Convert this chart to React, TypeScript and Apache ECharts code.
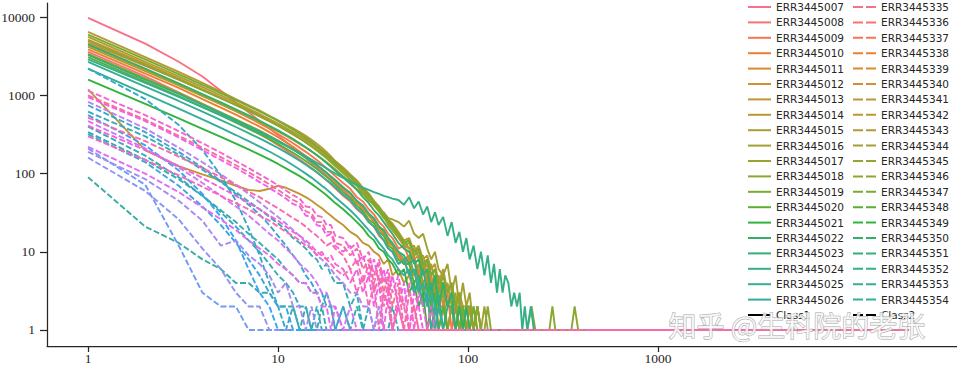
import React, { useEffect, useRef } from "react";
import * as echarts from "echarts";

// shared x grid (abundance values)
const XS = [1,2,3,4,5,6,7,8,9,10,11,12,13,14,15,16,17,18,19,20,22,24,26,28,30,32,34,36,38,40,43,46,49,52,55,58,61,64,67,70,74,78,82,86,90,94,98,102,107,112,117,122,127,132,137,142,147,152,157,163,169,175,181,187,193,199];

const SOLID_NAMES = ["ERR3445007","ERR3445008","ERR3445009","ERR3445010","ERR3445011","ERR3445012","ERR3445013","ERR3445014","ERR3445015","ERR3445016","ERR3445017","ERR3445018","ERR3445019","ERR3445020","ERR3445021","ERR3445022","ERR3445023","ERR3445024","ERR3445025","ERR3445026"];
const DASHED_NAMES = ["ERR3445335","ERR3445336","ERR3445337","ERR3445338","ERR3445339","ERR3445340","ERR3445341","ERR3445342","ERR3445343","ERR3445344","ERR3445345","ERR3445346","ERR3445347","ERR3445348","ERR3445349","ERR3445350","ERR3445351","ERR3445352","ERR3445353","ERR3445354"];

// Class1 (solid) series values on the XS grid
const E007 = [9800,4600,2700,1750,1150,820,610,470,380,310,255,215,182,158,137,120,106,94,84,75,62,50,44,34,30,24,21,16,15,12,10,7,9,5,6,3,5,2,4,2,3,1,2,1,2,1,1,2,1];
const E008 = [3600,1750,1100,780,590,470,385,320,272,232,200,174,152,134,118,104,92,82,73,65,52,44,35,30,24,21,16,14,11,10,7,8,5,6,3,4,2,3,1,2,2,1,1,2,1];
const E009 = [4400,2150,1400,1000,780,630,520,440,375,322,280,245,215,190,168,149,132,117,104,93,76,64,50,44,35,30,24,21,17,15,11,12,8,9,5,7,4,5,3,4,2,3,1,2,2,1,2,1];
const E010 = [3900,1900,1250,900,700,570,470,400,340,292,253,220,192,168,148,130,115,102,90,80,64,55,42,37,29,25,20,17,13,12,9,7,8,5,6,3,4,2,3,1,2,1,2,1];
const E011 = [4700,2400,1600,1180,930,770,650,560,490,430,380,338,302,272,245,220,198,178,160,144,118,96,80,64,54,43,37,29,26,21,17,13,14,9,11,7,8,5,6,4,5,3,4,2,3,1,2,2,1,2,1];
const E012 = [5200,2550,1650,1200,940,760,640,545,470,410,360,318,282,252,225,202,181,162,146,131,108,90,72,60,48,41,33,28,22,19,15,12,11,8,9,6,7,4,5,3,4,2,3,1,2,2,1,2,1];
const E013 = [1200,200,125,98,82,70,62,60,64,70,66,60,55,50,45,40,36,32,29,26,22,18,16,13,12,10,9,7,8,5,6,4,5,3,4,2,3,1,2,1];
const E014 = [6500,3100,2000,1450,1120,900,750,640,550,480,425,380,340,305,272,242,214,189,166,145,120,98,82,66,56,45,38,31,26,23,18,14,15,10,12,8,9,6,7,4,6,3,4,2,3,2,1,2,1,2,1,1];
const E015 = [5600,2700,1750,1280,1000,810,680,580,500,437,385,340,300,268,240,214,190,170,152,136,112,93,76,63,51,44,35,30,24,21,16,14,11,12,8,9,5,7,4,5,3,4,2,3,1,2,2,1,2,1];
const E016 = [4200,2050,1350,980,770,630,530,455,395,346,305,270,240,214,192,172,155,140,126,114,93,78,63,55,45,41,34,32,27,26,24,21,25,17,15,17,11,8,10,6,5,7,3,5,2,4,2,3,1,2,1,2,1];
const E017 = [3400,1650,1080,780,610,495,415,355,305,265,232,204,180,160,142,127,114,102,91,82,66,56,44,38,30,26,21,18,14,12,10,8,9,5,7,4,5,2,4,2,3,1,2,1,1,2,1];
const E018 = [5000,2450,1600,1170,920,750,630,540,468,410,360,318,282,250,222,198,176,157,140,125,102,84,70,56,47,39,33,27,24,19,16,12,13,9,10,6,8,5,6,3,5,3,4,2,3,1,2,2,1,2,1,1,2,1];
const E019 = [6000,2900,1880,1370,1070,870,730,625,540,472,415,366,324,287,255,226,200,177,157,139,115,94,78,63,53,43,37,30,25,22,17,13,14,10,11,7,8,5,6,4,4,2,3,2,1,2,1,1,2,1];
const E020 = [3100,1500,980,710,555,450,375,320,276,240,210,185,163,145,129,115,102,91,81,72,58,49,39,33,26,23,18,16,12,11,8,7,7,4,5,3,4,2,3,1,2,1,1];
const E021 = [1600,780,510,375,295,242,204,175,152,133,117,104,93,83,74,66,59,53,47,42,35,29,24,20,16,14,11,10,8,7,5,6,3,4,2,3,1,2,1,1];
const E022 = [4500,2200,1430,1040,815,665,555,475,410,358,314,277,245,218,194,173,154,137,122,109,90,74,62,50,42,34,29,24,20,17,13,11,10,7,8,5,6,3,5,2,4,2,3,1,2,1,2,1];
const E023 = [3300,1600,1050,760,595,485,405,347,300,262,230,203,180,160,143,128,115,103,92,83,67,57,45,39,31,27,21,19,15,13,10,9,7,8,4,6,3,4,2,3,1,2,2,1,1];
const E024 = [2900,1450,960,710,560,460,390,335,292,257,228,204,184,166,151,138,127,117,108,100,88,80,72,66,62,58,55,52,50,48,46,40,50,36,44,30,38,24,32,22,28,16,24,13,18,10,15,8,12,6,10,5,9,4,7,3,6,3,5,4,2,3,2,3,1,2];
const E025 = [2700,1300,850,620,485,395,330,282,244,213,187,165,146,130,116,104,93,83,75,67,54,46,36,31,24,21,17,14,11,10,7,8,5,6,3,4,2,3,1,2,1,1];
const E026 = [2200,1050,680,495,385,312,260,222,192,167,146,128,113,100,89,79,70,63,56,50,41,34,28,23,19,16,13,11,9,8,6,5,6,3,4,2,3,1,2,1];

// Class2 (dashed) series values on the XS grid
const E335 = [90,21,13,8,6,4,4,3,3,2,2,2,1,2,1,1,2,1,1,1];
const E336 = [340,150,85,52,34,24,17,13,10,8,6,5,4,4,3,3,2,3,2,1,2,1,2,1,1];
const E337 = [620,300,175,112,78,58,44,35,28,23,19,15,13,11,9,8,6,7,5,4,4,2,3,1,2,1,2,1,1,2,1];
const E338 = [400,170,90,52,32,21,14,10,7,5,4,3,2,2,1,2,1,1];
const E339 = [2200,900,420,200,95,45,20,9,4,2,1,2,1,1];
const E340 = [750,340,190,120,80,55,40,30,22,16,12,9,7,5,4,3,3,2,2,1,2,1,1];
const E341 = [320,140,70,38,22,13,8,5,3,2,2,1,1];
const E342 = [560,230,110,55,28,14,6,3,2,1,1,1];
const E343 = [210,72,12,3,2,2,1,1,1];
const E344 = [160,60,26,11,6,3,2,2,1,1,1];
const E345 = [190,85,45,25,12,14,9,7,5,3,4,2,2,1,2,1,1];
const E346 = [830,380,215,140,98,72,55,43,34,28,23,19,16,13,11,9,8,7,6,5,4,3,3,2,2,1,2,1,1];
const E347 = [470,210,120,76,52,38,29,22,17,14,11,9,7,6,5,4,3,3,2,2,1,2,1,1];
const E348 = [220,100,58,37,26,19,14,11,9,7,6,5,4,4,3,3,2,2,1,2,1,1];
const E349 = [950,470,290,200,150,118,95,78,66,56,48,41,38,29,28,22,21,16,17,12,10,12,7,9,5,8,4,6,3,5,2,4,1,3,2,1,1];
const E350 = [410,200,125,88,66,52,42,35,29,25,21,18,16,14,12,10,9,8,9,7,6,4,6,3,5,2,4,1,3,1,2,1,1];
const E351 = [1150,560,350,245,185,145,118,98,83,71,61,53,48,38,37,29,28,22,22,16,15,11,13,8,10,5,8,4,6,3,5,2,4,1,3,2,1,2,1,1];
const E352 = [300,150,95,68,52,42,35,29,25,21,18,16,14,12,11,9,10,8,7,6,5,6,3,5,2,4,1,3,2,1,2,1,1];
const E353 = [520,260,165,118,90,72,59,50,42,36,31,27,24,21,18,16,14,12,13,11,9,6,8,4,7,3,5,2,4,1,3,2,1,2,1,1];
const E354 = [1000,490,305,215,163,128,104,87,73,62,53,46,42,33,31,24,24,18,18,13,12,9,11,6,8,4,7,3,5,2,4,1,3,2,1,1];

const SOLID_VALUES = [E007,E008,E009,E010,E011,E012,E013,E014,E015,E016,E017,E018,E019,E020,E021,E022,E023,E024,E025,E026];
const DASHED_VALUES = [E335,E336,E337,E338,E339,E340,E341,E342,E343,E344,E345,E346,E347,E348,E349,E350,E351,E352,E353,E354];

// last abundance value of each series (count 1)
const SOLID_TAILS = [21000,130,150,120,160,170,110,140,150,200,110,420,130,110,90,150,140,240,100,85];
const DASHED_TAILS = [26,45,60,30,20,35,18,14,10,12,25,55,40,30,80,70,6000,60,20000,90];

// isolated points beyond the XS grid
const EXTRA_018 = [[205,1],[216,2],[226,1],[268,1],[278,2],[288,1],[350,1],[364,2],[380,1]];
const EXTRA_024 = [[205,1],[214,2],[222,1]];

const X_TICKS = [1, 10, 100, 1000];
const Y_TICKS = [1, 10, 100, 1000, 10000];

// seaborn husl palette
const MM = [[3.2406,-1.5372,-0.4986],[-0.9689,1.8758,0.0415],[0.0557,-0.2040,1.0570]];
function maxChroma(L: number, H: number) {
  const hrad = (H / 360) * 2 * Math.PI;
  const sinH = Math.sin(hrad), cosH = Math.cos(hrad);
  const sub1 = Math.pow(L + 16, 3) / 1560896;
  const sub2 = sub1 > 0.008856 ? sub1 : L / 903.3;
  let result = Infinity;
  for (const [m1, m2, m3] of MM) {
    const top = (0.99915 * m1 + 1.05122 * m2 + 1.1446 * m3) * sub2;
    const rbottom = 0.8633 * m3 - 0.17266 * m2;
    const lbottom = 0.12949 * m3 - 0.38848 * m1;
    const bottom = (rbottom * sinH + lbottom * cosH) * sub2;
    for (const t of [0, 1]) {
      const C = (L * (top - 1.05122 * t)) / (bottom + 0.17266 * sinH * t);
      if (C > 0 && C < result) result = C;
    }
  }
  return result;
}
function husl(h: number, s: number, l: number) {
  const C = (maxChroma(l, h) / 100) * s;
  const hrad = (h / 180) * Math.PI;
  const U = Math.cos(hrad) * C, V = Math.sin(hrad) * C;
  const varY = l > 8 ? Math.pow((l + 16) / 116, 3) : l / 903.3;
  const varU = U / (13 * l) + 0.19784;
  const varV = V / (13 * l) + 0.46834;
  const Y = varY;
  const X = -(9 * Y * varU) / ((varU - 4) * varV - varU * varV);
  const Z = (9 * Y - 15 * varV * Y - varV * X) / (3 * varV);
  const rgb = MM.map((r) => {
    let c = r[0] * X + r[1] * Y + r[2] * Z;
    c = c <= 0.0031308 ? 12.92 * c : 1.055 * Math.pow(c, 1 / 2.4) - 0.055;
    return Math.max(0, Math.min(255, Math.round(c * 255)));
  });
  return "#" + rgb.map((v) => v.toString(16).padStart(2, "0")).join("");
}
function huslPalette(n: number) {
  const out: string[] = [];
  for (let i = 0; i < n; i++) {
    const h = ((i / n + 0.01) % 1) * 359;
    out.push(husl(h, 0.9 * 99, 0.65 * 99));
  }
  return out;
}

const PAL = huslPalette(40);

function build(ys: number[], tail: number, extra?: number[][]) {
  const pts: number[][] = ys.map((y, i) => [XS[i], y]);
  if (extra) extra.forEach((p) => pts.push(p));
  pts.push([tail, 1]);
  return pts;
}

const EXTRAS: Record<string, number[][]> = { ERR3445018: EXTRA_018, ERR3445024: EXTRA_024 };

export default function App() {
  const ref = useRef<HTMLDivElement>(null);
  useEffect(() => {
    if (!ref.current) return;
    const chart = echarts.init(ref.current, undefined, { renderer: "svg" });
    const axisColor = "#262626";
    const series: any[] = [];
    SOLID_NAMES.forEach((name, i) => {
      series.push({
        name, type: "line", symbol: "none", showSymbol: false, silent: true,
        data: build(SOLID_VALUES[i], SOLID_TAILS[i], EXTRAS[name]),
        lineStyle: { color: PAL[i], width: 1.9, type: "solid" },
        itemStyle: { color: PAL[i] },
      });
    });
    DASHED_NAMES.forEach((name, i) => {
      series.push({
        name, type: "line", symbol: "none", showSymbol: false, silent: true,
        data: build(DASHED_VALUES[i], DASHED_TAILS[i], EXTRAS[name]),
        lineStyle: { color: PAL[i + 20], width: 1.9, type: [6, 2.5] },
        itemStyle: { color: PAL[i + 20] },
      });
    });
    series.push({ name: "Class1", type: "line", symbol: "none", data: [], lineStyle: { color: "#000", width: 2 }, itemStyle: { color: "#000" } });
    series.push({ name: "Class2", type: "line", symbol: "none", data: [], lineStyle: { color: "#000", width: 2, type: [10, 3] }, itemStyle: { color: "#000" } });

    const legendText = { fontFamily: "DejaVu Sans", fontSize: 10.5, color: axisColor, lineHeight: 12 };
    const labelStyle = { fontFamily: "Liberation Serif", fontSize: 13.5, color: axisColor };
    const hiddenSymbol = { opacity: 0, color: "rgba(0,0,0,0)", borderWidth: 0 };

    chart.setOption({
      animation: false,
      backgroundColor: "#ffffff",
      grid: { left: 47, right: 0, top: 3, bottom: 23, containLabel: false, outerBoundsMode: "none" },
      xAxis: {
        type: "log", logBase: 10, min: 0.608, max: 37470,
        axisLine: { show: true, lineStyle: { color: axisColor, width: 1.25 } },
        axisTick: { show: true, length: 6, customValues: X_TICKS, lineStyle: { color: axisColor, width: 1.25 } },
        axisLabel: { ...labelStyle, margin: 5, customValues: X_TICKS, formatter: (v: number) => String(Math.round(v)) },
        splitLine: { show: false }, minorTick: { show: false },
      },
      yAxis: {
        type: "log", logBase: 10, min: 0.624, max: 15240,
        axisLine: { show: true, lineStyle: { color: axisColor, width: 1.25 } },
        axisTick: { show: true, length: 7, customValues: Y_TICKS, lineStyle: { color: axisColor, width: 1.25 } },
        axisLabel: { ...labelStyle, margin: 12, customValues: Y_TICKS, formatter: (v: number) => String(Math.round(v)) },
        splitLine: { show: false }, minorTick: { show: false },
      },
      legend: [
        {
          orient: "vertical", left: 747, top: 1, itemWidth: 23, itemHeight: 8, itemGap: 3.4,
          selectedMode: false, textStyle: legendText, padding: 0, itemStyle: hiddenSymbol,
          data: [
            ...SOLID_NAMES.map((n, i) => ({ name: n, itemStyle: hiddenSymbol, lineStyle: { color: PAL[i], width: 2, type: "solid" } })),
            { name: "Class1", itemStyle: hiddenSymbol, lineStyle: { color: "#000", width: 2, type: "solid" } },
          ],
        },
        {
          orient: "vertical", left: 852, top: 1, itemWidth: 23, itemHeight: 8, itemGap: 3.4,
          selectedMode: false, textStyle: legendText, padding: 0, itemStyle: hiddenSymbol,
          data: [
            ...DASHED_NAMES.map((n, i) => ({ name: n, itemStyle: hiddenSymbol, lineStyle: { color: PAL[i], width: 2, type: [10, 3] } })),
            { name: "Class2", itemStyle: hiddenSymbol, lineStyle: { color: "#000", width: 2, type: [10, 3] } },
          ],
        },
      ],
      graphic: [
        {
          type: "text", left: 668, top: 310, z: 100, silent: true,
          style: { text: "知乎 @生科院的老张", font: '28px "Noto Sans CJK SC"', fill: "rgba(255,255,255,0.8)", stroke: "#a8a8a8", lineWidth: 1 },
        },
      ],
      series,
    });
    return () => chart.dispose();
  }, []);
  return <div ref={ref} style={{ position: "fixed", left: 0, top: 0, width: 957, height: 369 }} />;
}
